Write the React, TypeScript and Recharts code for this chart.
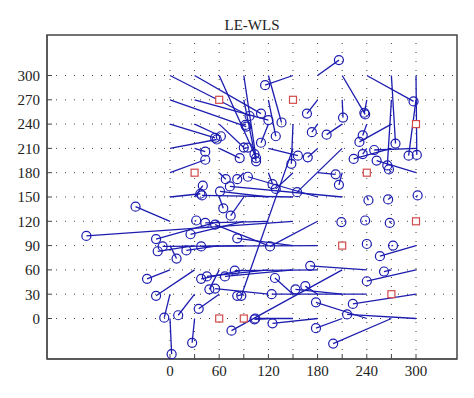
import {
  ComposedChart,
  ReferenceArea,
  ReferenceLine,
  Scatter,
  XAxis,
  YAxis,
} from "recharts";

const gridSteps = [0, 30, 60, 90, 120, 150, 180, 210, 240, 270, 300];
const xTicks = [0, 30, 60, 90, 120, 150, 180, 210, 240, 270, 300];
const yTicks = [0, 30, 60, 90, 120, 150, 180, 210, 240, 270, 300];

// anchor nodes (red squares)
const anchors = [
  { x: 60, y: 270 },
  { x: 150, y: 270 },
  { x: 300, y: 240 },
  { x: 30, y: 180 },
  { x: 240, y: 180 },
  { x: 300, y: 120 },
  { x: 210, y: 90 },
  { x: 270, y: 30 },
  { x: 60, y: 0 },
  { x: 90, y: 0 },
];

// true position of each unknown node
const truePos: [number, number][] = [
  [0, 300], [30, 300], [60, 300], [90, 300], [120, 300], [150, 300], [180, 300], [210, 300], [240, 300], [270, 300], [300, 300],
  [0, 270], [30, 270], [90, 270], [120, 270], [180, 270], [210, 270], [240, 270], [270, 270], [300, 270],
  [0, 240], [30, 240], [60, 240], [90, 240], [120, 240], [150, 240], [180, 240], [210, 240], [240, 240], [270, 240],
  [0, 210], [30, 210], [60, 210], [90, 210], [120, 210], [150, 210], [180, 210], [210, 210], [240, 210], [270, 210], [300, 210],
  [0, 180], [60, 180], [90, 180], [120, 180], [150, 180], [180, 180], [210, 180], [270, 180], [300, 180],
  [0, 150], [30, 150], [60, 150], [90, 150], [120, 150], [150, 150], [180, 150], [210, 150], [240, 150], [270, 150], [300, 150],
  [0, 120], [30, 120], [60, 120], [90, 120], [120, 120], [150, 120], [180, 120], [210, 120], [240, 120], [270, 120],
  [0, 90], [30, 90], [60, 90], [90, 90], [120, 90], [150, 90], [180, 90], [240, 90], [270, 90], [300, 90],
  [0, 60], [30, 60], [60, 60], [90, 60], [120, 60], [150, 60], [180, 60], [210, 60], [240, 60], [270, 60], [300, 60],
  [0, 30], [30, 30], [60, 30], [90, 30], [120, 30], [150, 30], [180, 30], [210, 30], [240, 30], [300, 30],
  [0, 0], [30, 0], [120, 0], [150, 0], [180, 0], [210, 0], [240, 0], [270, 0], [300, 0],
];

// LE-WLS estimate for the same nodes (blue circles)
const estPos: [number, number][] = [
  [97, 250], [111, 253], [103, 203], [105, 198], [136, 242], [116, 288], [206, 319], [238, 252], [297, 268], [275, 216], [301, 202],
  [93, 237], [120, 245], [105, 194], [129, 225], [167, 253], [211, 248], [237, 254], [265, 189], [291, 201],
  [55, 223], [62, 225], [90, 211], [92, 239], [111, 217], [148, 191], [173, 230], [191, 227], [235, 226], [231, 218],
  [57, 221], [43, 206], [85, 198], [95, 211], [156, 201], [87, 28], [168, 199], [155, 156], [235, 203], [224, 197], [249, 208],
  [43, 196], [68, 172], [82, 172], [125, 166], [129, 160], [202, 178], [206, 165], [267, 184], [252, 195],
  [37, 154], [40, 164], [65, 136], [74, 127], [61, 157], [39, 152], [95, 175], [73, 163], [242, 146], [266, 147], [302, 152],
  [-42, 138], [32, 121], [-17, 98], [25, 104], [43, 118], [-102, 102], [122, 89], [209, 119], [238, 121], [268, 118],
  [8, 74], [-15, 83], [20, 84], [38, 89], [55, 116], [82, 99], [-9, 89], [240, 92], [272, 90], [256, 77],
  [-28, 49], [-17, 28], [48, 36], [38, 49], [45, 52], [67, 52], [79, 59], [75, -15], [171, 65], [261, 58], [240, 46],
  [-7, 1], [10, 4], [35, 12], [82, 28], [55, 37], [128, 50], [165, 40], [153, 36], [124, 30], [223, 18],
  [2, -44], [27, -30], [103, -1], [104, 0], [125, -6], [178, -12], [178, 20], [199, -31], [216, 5],
];

const BLUE = "#1c1cb0";
const RED = "#d24a4a";
const GRID = "#444";
const FONT = "'Liberation Serif', 'DejaVu Serif', serif";

const estimates = estPos.map(([x, y]) => ({ x, y }));

const Ring = (p: any) => (
  <circle cx={p.cx} cy={p.cy} r={4.5} fill="none" stroke={BLUE} strokeWidth={1.2} />
);

const Square = (p: any) => (
  <rect
    x={p.cx - 3.5}
    y={p.cy - 3.5}
    width={7}
    height={7}
    fill="#fff"
    stroke={RED}
    strokeWidth={1.2}
  />
);

export default function App() {
  return (
    <div style={{ position: "absolute", left: 0, top: 0, width: 474, height: 398, background: "#fff" }}>
      <div
        style={{
          position: "absolute",
          left: 47,
          width: 410,
          top: 15,
          textAlign: "center",
          fontFamily: FONT,
          fontSize: 15,
          color: "#222",
          lineHeight: "20px",
        }}
      >
        LE-WLS
      </div>
      <ComposedChart
        width={474}
        height={398}
        margin={{ top: 35, right: 17, bottom: 9, left: 7 }}
      >
        <XAxis
          type="number"
          dataKey="x"
          domain={[-150, 350]}
          ticks={xTicks}
          interval={0}
          allowDataOverflow
          height={30}
          tickSize={-5}
          tickMargin={11}
          tickFormatter={(v: number) => (v % 60 === 0 ? String(v) : "")}
          tick={{ fontSize: 15, fontFamily: FONT, fill: "#222" }}
          stroke="#444"
        />
        <YAxis
          type="number"
          dataKey="y"
          domain={[-50, 350]}
          ticks={yTicks}
          interval={0}
          allowDataOverflow
          width={40}
          tickSize={-5}
          tickMargin={12}
          tick={{ fontSize: 15, fontFamily: FONT, fill: "#222" }}
          stroke="#444"
        />
        {gridSteps.map((v) => (
          <ReferenceLine key={"gx" + v} x={v} stroke={GRID} strokeDasharray="1 8" />
        ))}
        {gridSteps.map((v) => (
          <ReferenceLine key={"gy" + v} y={v} stroke={GRID} strokeDasharray="1 8" />
        ))}
        <ReferenceArea x1={-150} x2={350} y1={-50} y2={350} fill="none" stroke="#444" strokeWidth={1.5} />
        {truePos.map(([x0, y0], i) => (
          <ReferenceLine
            key={"l" + i}
            segment={[
              { x: x0, y: y0 },
              { x: estPos[i][0], y: estPos[i][1] },
            ]}
            stroke={BLUE}
            strokeWidth={1.3}
          />
        ))}
        <Scatter data={estimates} shape={Ring} isAnimationActive={false} />
        <Scatter data={anchors} shape={Square} isAnimationActive={false} />
      </ComposedChart>
    </div>
  );
}
